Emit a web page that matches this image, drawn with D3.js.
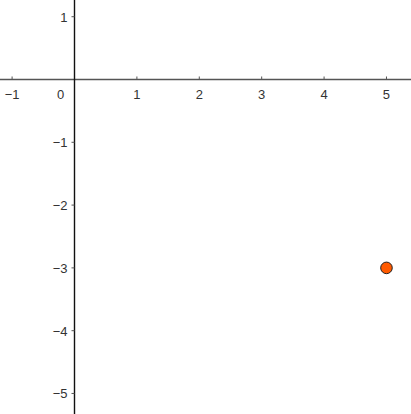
<!DOCTYPE html>
<html><head><meta charset="utf-8">
<script src="https://cdn.jsdelivr.net/npm/d3@7"></script>
<style>body{margin:0;background:#fff}svg{display:block}text{font-family:"Liberation Sans",Arial,sans-serif;font-size:13px;fill:#333}</style>
</head><body><svg width="411" height="414"></svg>
<script>
const xTicks = [-1, 1, 2, 3, 4, 5];
const yTicks = [1, -1, -2, -3, -4, -5];
const pointsX = [5];
const pointsY = [-3];

const W = 411, H = 414;
const x = d3.scaleLinear().domain([-1.194, 5.393]).range([0, W]);
const y = d3.scaleLinear().domain([1.266, -5.327]).range([0, H]);
const svg = d3.select('svg');

// x axis
const gx = svg.append('g').attr('transform', `translate(0,${y(0)})`);
gx.append('line').attr('x1', 0).attr('x2', W).attr('stroke', '#555').attr('stroke-width', 1.3);
gx.selectAll('.t').data(xTicks).enter().append('line')
  .attr('x1', d => x(d)).attr('x2', d => x(d)).attr('y1', -3).attr('y2', 0)
  .attr('stroke', '#555');
gx.selectAll('text').data(xTicks).enter().append('text')
  .attr('x', d => x(d)).attr('y', 20).attr('text-anchor', 'middle')
  .text(d => d < 0 ? '\u2212' + Math.abs(d) : d);
gx.append('text').attr('x', x(0) - 14).attr('y', 20).attr('text-anchor', 'middle').text('0');

// y axis
const gy = svg.append('g').attr('transform', `translate(${x(0)},0)`);
gy.append('line').attr('y1', 0).attr('y2', H).attr('stroke', '#111').attr('stroke-width', 1.4);
gy.selectAll('.t').data(yTicks).enter().append('line')
  .attr('y1', d => y(d)).attr('y2', d => y(d)).attr('x1', -3).attr('x2', 0)
  .attr('stroke', '#555');
gy.selectAll('text').data(yTicks).enter().append('text')
  .attr('x', -7).attr('y', d => y(d) + 5).attr('text-anchor', 'end')
  .text(d => d < 0 ? '\u2212' + Math.abs(d) : d);

// point
svg.selectAll('circle').data(pointsX).enter().append('circle')
  .attr('cx', d => x(d)).attr('cy', (d, i) => y(pointsY[i])).attr('r', 5.8)
  .attr('fill', '#ff5a00').attr('stroke', '#222').attr('stroke-width', 1);
</script></body></html>
